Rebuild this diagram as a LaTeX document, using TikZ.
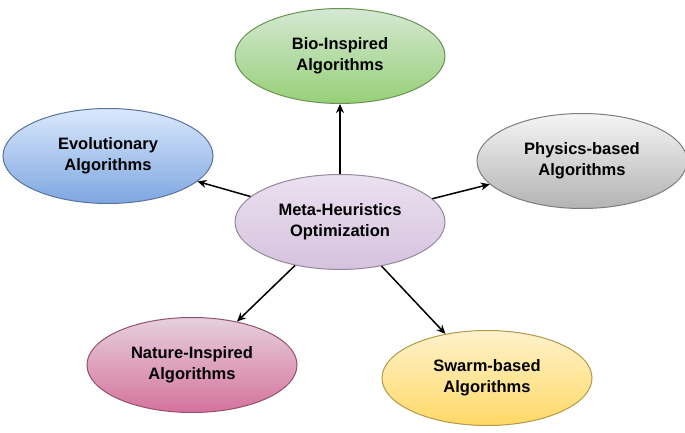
\documentclass[tikz,border=0pt]{standalone}
\usepackage{fontspec}
\setmainfont{Liberation Sans}
\usetikzlibrary{arrows.meta, shapes.geometric, positioning}

\begin{document}
\begin{tikzpicture}
% Style
[
    x=1pt, y=-1pt,
    algo/.style 2 args={ellipse, draw=#2!70!black, line width=1pt, minimum width=210pt, minimum height=95pt,
        align=center, font=\bfseries\fontsize{16.5}{21}\selectfont,
        top color=#1, bottom color=#2},
    link/.style={-{Stealth[length=9pt, width=8pt]}, line width=1.5pt}
]
\useasboundingbox (0,0) rectangle (685,433);

% Define: Colours
\definecolor{biotop}{HTML}{D5E8D4}\definecolor{biobot}{HTML}{97D077}
\definecolor{evotop}{HTML}{DAE8FC}\definecolor{evobot}{HTML}{7EA6E0}
\definecolor{phytop}{HTML}{F5F5F5}\definecolor{phybot}{HTML}{B3B3B3}
\definecolor{mettop}{HTML}{EBE1F0}\definecolor{metbot}{HTML}{D5C2DE}
\definecolor{nattop}{HTML}{E6D0DE}\definecolor{natbot}{HTML}{D5739D}
\definecolor{swatop}{HTML}{FFF2CC}\definecolor{swabot}{HTML}{FFD966}

%=================================== Nodes ===================================
\node[algo={mettop}{metbot}] (meta) at (340,222) {Meta-Heuristics\\Optimization};
\node[algo={biotop}{biobot}] (bio) at (340,56) {Bio-Inspired\\Algorithms};
\node[algo={evotop}{evobot}] (evo) at (108,156) {Evolutionary\\Algorithms};
\node[algo={phytop}{phybot}] (phy) at (582,161) {Physics-based\\Algorithms};
\node[algo={nattop}{natbot}] (nat) at (192,365) {Nature-Inspired\\Algorithms};
\node[algo={swatop}{swabot}] (swa) at (487,378) {Swarm-based\\Algorithms};

%=================================== Links ===================================
\foreach \t in {bio, evo, phy, nat, swa} {
    \draw[link] (meta) -- (\t);
}

\end{tikzpicture}
\end{document}
